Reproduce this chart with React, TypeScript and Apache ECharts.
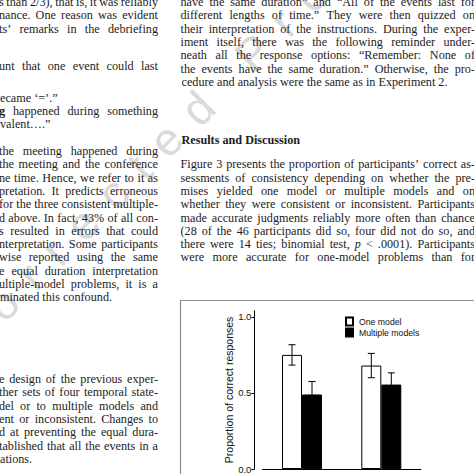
import React, { useEffect, useRef } from "react";
import * as echarts from "echarts";

// ---------- chart data ----------
const categories = ["Consistent", "Inconsistent"];
const legendNames = ["One model", "Multiple models"];
const oneModel = [0.75, 0.68];
const multipleModels = [0.49, 0.555];
const oneModelError = [0.067, 0.08];
const multipleModelsError = [0.085, 0.077];
const yTicks = [0, 0.5, 1.0];
const yAxisTitle = "Proportion of correct responses";
const watermark = "Uncorrected Proof";

// ---------- page text ----------
const leftPara1 = [
  "s than 2/3), that is, it was reliably",
  "nance. One reason was evident",
  "ts\u2019 remarks in the debriefing",
];
const leftQuote1 = ["unt that one event could last"];
const leftQuote2 = ["ecame \u2018=\u2019.\u201d"];
const leftQuote3 = ["g happened during something", "valent\u2026.\u201d"];
const leftPara2 = [
  "the meeting happened during",
  "the meeting and the conference",
  "ne time. Hence, we refer to it as",
  "pretation. It predicts erroneous",
  "for the three consistent multiple-",
  "d above. In fact, 43% of all con-",
  "s resulted in errors that could",
  "nterpretation. Some participants",
  "wise reported using the same",
  "e equal duration interpretation",
  "ultiple-model problems, it is a",
  "minated this confound.",
];
const leftPara3 = [
  "e design of the previous exper-",
  "ther sets of four temporal state-",
  "del or to multiple models and",
  "ent or inconsistent. Changes to",
  "d at preventing the equal dura-",
  "tablished that all the events in a",
  "ations.",
];
const rightPara1 = [
  "have the same duration\u201d and \u201cAll of the events last for",
  "different lengths of time.\u201d They were then quizzed on",
  "their interpretation of the instructions. During the exper-",
  "iment itself, there was the following reminder under-",
  "neath all the response options: \u201cRemember: None of",
  "the events have the same duration.\u201d Otherwise, the pro-",
  "cedure and analysis were the same as in Experiment 2.",
];
const rightHeading = ["Results and Discussion"];
const rightPara2 = [
  "Figure 3 presents the proportion of participants\u2019 correct as-",
  "sessments of consistency depending on whether the pre-",
  "mises yielded one model or multiple models and on",
  "whether they were consistent or inconsistent. Participants",
  "made accurate judgments reliably more often than chance",
  "(28 of the 46 participants did so, four did not do so, and",
  "there were 14 ties; binomial test, p < .0001). Participants",
  "were more accurate for one-model problems than for",
];

// ---------- layout constants ----------
const PITCH = 13.3;
const FONT_SIZE = 12.2;
const SERIF = '"Liberation Serif"';
const SANS = '"Liberation Sans"';
const TEXT_COLOR = "#1c1c1c";
const BAR_WIDTH = 20;
const WM_SIZE = 46;
const WM_TRACK = 19;
const WM_ANGLE = (45 * Math.PI) / 180;
const WM_ANCHOR_INDEX = 7;
const WM_ANCHOR = [113, 193];

export default function App() {
  const ref = useRef<HTMLDivElement>(null);

  useEffect(() => {
    const el = ref.current!;
    const chart = echarts.init(el, undefined, { renderer: "svg" });
    const canvas = document.createElement("canvas");
    const ctx = canvas.getContext("2d")!;

    const styleOf = (w: string, bold: boolean) => ({
      fontStyle: w === "p" ? "italic" : "normal",
      fontWeight: bold || w === "g" ? "bold" : "normal",
    });
    const measure = (w: string, st: { fontStyle: string; fontWeight: string }) => {
      ctx.font = `${st.fontStyle} ${st.fontWeight} ${FONT_SIZE}px ${SERIF}`;
      return ctx.measureText(w).width;
    };

    const elements: any[] = [];

    const addLine = (line: string, y: number, x0: number, x1: number, justify: boolean, bold = false) => {
      const words = line.split(" ");
      const styles = words.map((w) => styleOf(w, bold));
      const widths = words.map((w, i) => measure(w, styles[i]));
      const total = widths.reduce((a, b) => a + b, 0);
      let gap = measure(" ", styles[0]);
      if (justify && words.length > 1) gap = (x1 - x0 - total) / (words.length - 1);
      let x = x0;
      words.forEach((w, i) => {
        elements.push({
          type: "text",
          x,
          y,
          z: 10,
          silent: true,
          style: {
            text: w,
            fontSize: FONT_SIZE,
            fontFamily: SERIF,
            fontStyle: styles[i].fontStyle,
            fontWeight: styles[i].fontWeight,
            fill: TEXT_COLOR,
            textAlign: "left",
            textVerticalAlign: "middle",
          },
        });
        x += widths[i] + gap;
      });
    };

    const addBlock = (
      lines: string[],
      y0: number,
      x0: number,
      x1: number,
      finalLast: boolean,
      bold = false,
      justifyAll = true
    ) => {
      lines.forEach((line, i) => {
        const isFinal = finalLast && i === lines.length - 1;
        addLine(line, y0 + i * PITCH, isFinal ? x0 + 1 : x0, x1, justifyAll && !isFinal, bold);
      });
    };

    // left column (visible right-hand part)
    addBlock(leftPara1, 2, -1, 158, false);
    addBlock(leftQuote1, 66, -1, 158, false);
    addBlock(leftQuote2, 97.5, -1, 158, true);
    addBlock(leftQuote3, 110.8, -1, 158, true);
    addBlock(leftPara2, 151, -1, 158, true);
    addBlock(leftPara3, 379, -1, 158, true);
    // right column (visible left-hand part)
    addBlock(rightPara1, 2, 180.5, 475, true);
    addBlock(rightHeading, 140, 180.5, 475, true, true, false);
    addBlock(rightPara2, 164.3, 180.5, 475, false);

    // watermark, letter by letter (spaced out)
    ctx.font = `${WM_SIZE}px ${SANS}`;
    const chars = watermark.split("");
    const cw = chars.map((c) => ctx.measureText(c).width);
    const centers: number[] = [];
    let acc = 0;
    chars.forEach((c, i) => {
      centers.push(acc + cw[i] / 2);
      acc += cw[i] + WM_TRACK;
    });
    const dx = Math.cos(WM_ANGLE);
    const dy = -Math.sin(WM_ANGLE);
    chars.forEach((c, i) => {
      if (c === " ") return;
      const d = centers[i] - centers[WM_ANCHOR_INDEX];
      elements.push({
        type: "text",
        x: WM_ANCHOR[0] + d * dx,
        y: WM_ANCHOR[1] + d * dy,
        rotation: WM_ANGLE,
        z: 1,
        silent: true,
        style: {
          text: c,
          fontSize: WM_SIZE,
          fontFamily: SANS,
          fill: "#dadada",
          textAlign: "center",
          textVerticalAlign: "middle",
        },
      });
    });

    // figure frame
    elements.push({
      type: "rect",
      z: 2,
      silent: true,
      shape: { x: 180.5, y: 300.5, width: 400, height: 300 },
      style: { fill: "none", stroke: "#8c8c8c", lineWidth: 1.2 },
    });

    const errorSeries = (name: string, means: number[], errs: number[], side: number) => ({
      type: "custom",
      name,
      z: 5,
      silent: true,
      data: means.map((m, i) => [i, m, errs[i]]),
      renderItem: (params: any, api: any) => {
        const cat = api.value(0);
        const mean = api.value(1);
        const err = api.value(2);
        const x = api.coord([cat, mean])[0] + (side * BAR_WIDTH) / 2;
        const top = api.coord([cat, mean + err])[1];
        const bot = api.coord([cat, mean - err])[1];
        const st = { stroke: "#000", lineWidth: 1 };
        return {
          type: "group",
          children: [
            { type: "line", shape: { x1: x, y1: top, x2: x, y2: bot }, style: st },
            { type: "line", shape: { x1: x - 3.5, y1: top, x2: x + 3.5, y2: top }, style: st },
            { type: "line", shape: { x1: x - 3.5, y1: bot, x2: x + 3.5, y2: bot }, style: st },
          ],
        };
      },
    });

    const option: any = {
      animation: false,
      backgroundColor: "#ffffff",
      grid: { left: 262.35, top: 310.8, width: 158.6, height: 163.3 },
      legend: {
        data: legendNames,
        orient: "vertical",
        left: 340,
        top: 311.5,
        itemWidth: 7,
        itemHeight: 8,
        itemGap: 1,
        icon: "rect",
        selectedMode: false,
        textStyle: { fontSize: 8.7, fontFamily: SANS, color: "#111", padding: [0, 0, 0, 1] },
      },
      xAxis: {
        type: "category",
        data: categories,
        axisLine: { lineStyle: { color: "#000" } },
        axisTick: { show: false },
        axisLabel: { show: false },
      },
      yAxis: {
        type: "value",
        min: 0,
        max: 1.04,
        offset: 8,
        splitLine: { show: false },
        axisLine: { show: true, lineStyle: { color: "#000", width: 1 } },
        axisTick: { show: true, length: 3, customValues: yTicks, lineStyle: { color: "#000" } },
        axisLabel: {
          customValues: yTicks,
          margin: 3,
          fontSize: 9.5,
          fontFamily: SANS,
          color: "#111",
          formatter: (v: number) => v.toFixed(1),
        },
        name: yAxisTitle,
        nameLocation: "middle",
        nameGap: 20,
        nameTextStyle: { fontSize: 10.5, fontFamily: SANS, color: "#111" },
      },
      series: [
        {
          type: "bar",
          name: legendNames[0],
          data: oneModel,
          barWidth: BAR_WIDTH,
          barGap: "0%",
          itemStyle: { color: "#ffffff", borderColor: "#000", borderWidth: 1 },
        },
        {
          type: "bar",
          name: legendNames[1],
          data: multipleModels,
          barWidth: BAR_WIDTH,
          barGap: "0%",
          itemStyle: { color: "#000000", borderColor: "#000", borderWidth: 1 },
        },
        errorSeries("err-one", oneModel, oneModelError, -1),
        errorSeries("err-multi", multipleModels, multipleModelsError, 1),
      ],
      graphic: { elements },
    };

    chart.setOption(option);
    return () => chart.dispose();
  }, []);

  return (
    <div
      ref={ref}
      style={{ position: "fixed", left: 0, top: 0, width: 474, height: 474, background: "#fff" }}
    />
  );
}
